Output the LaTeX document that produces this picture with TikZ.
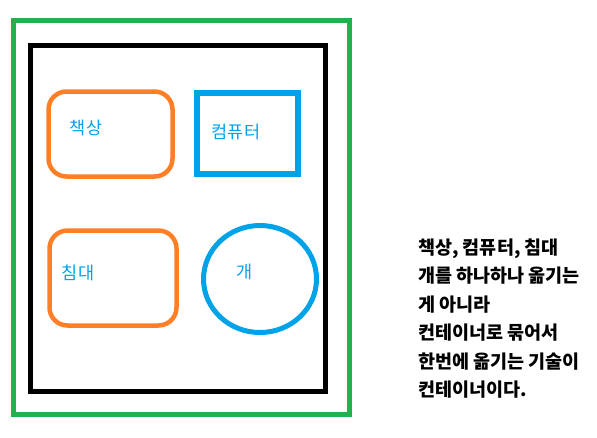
\documentclass[tikz,border=0pt]{standalone}
\usepackage{fontspec}
\setmainfont{Noto Sans CJK KR}
\usetikzlibrary{shapes.geometric}
\definecolor{paintgreen}{RGB}{34,177,76}
\definecolor{paintorange}{RGB}{255,127,39}
\definecolor{paintblue}{RGB}{0,162,232}
\tikzset{
  thing/.style={draw=paintorange,line width=4.5pt,rounded corners=18pt,inner sep=0pt},
  pcbox/.style={draw=paintblue,line width=5.5pt,inner sep=0pt},
  lbl/.style={text=paintblue,font=\fontsize{17.5}{17.5}\selectfont,inner sep=0pt},
  note/.style={font=\fontsize{18.5}{18.5}\selectfont\bfseries,inner sep=0pt,anchor=base west}
}
\begin{document}
\begin{tikzpicture}[x=1pt,y=-1pt]
\useasboundingbox (0,0) rectangle (597,437);
% room and container
\draw[draw=paintgreen,line width=5pt] (13.5,20.5) rectangle (349.5,414.5);
\draw[line width=5pt] (30.5,45.5) rectangle (325.5,391.5);
% things inside
\node[thing,minimum width=124pt,minimum height=85pt] (desk) at (110.5,134) {};
\node[pcbox,minimum width=101pt,minimum height=81pt] (pc) at (247.5,133.5) {};
\node[thing,minimum width=127pt,minimum height=95pt] (bed) at (113,278) {};
\node[ellipse,draw=paintblue,line width=5pt,inner sep=0pt,minimum width=113pt,minimum height=107pt] (dog) at (260,279) {};
\node[lbl] (desklbl) at (86,128) {책상};
\node[lbl] (pclbl) at (236,132) {컴퓨터};
\node[lbl] (bedlbl) at (78,273) {침대};
\node[lbl] (doglbl) at (245,272) {개};
% explanation
\foreach \t [count=\i] in {{책상, 컴퓨터, 침대},{개를 하나하나 옮기는},{게 아니라},{컨테이너로 묶어서},{한번에 옮기는 기술이},{컨테이너이다.}}
  \node[note] (line\i) at (418,{254+28.5*(\i-1)}) {\t};
\end{tikzpicture}
\end{document}
